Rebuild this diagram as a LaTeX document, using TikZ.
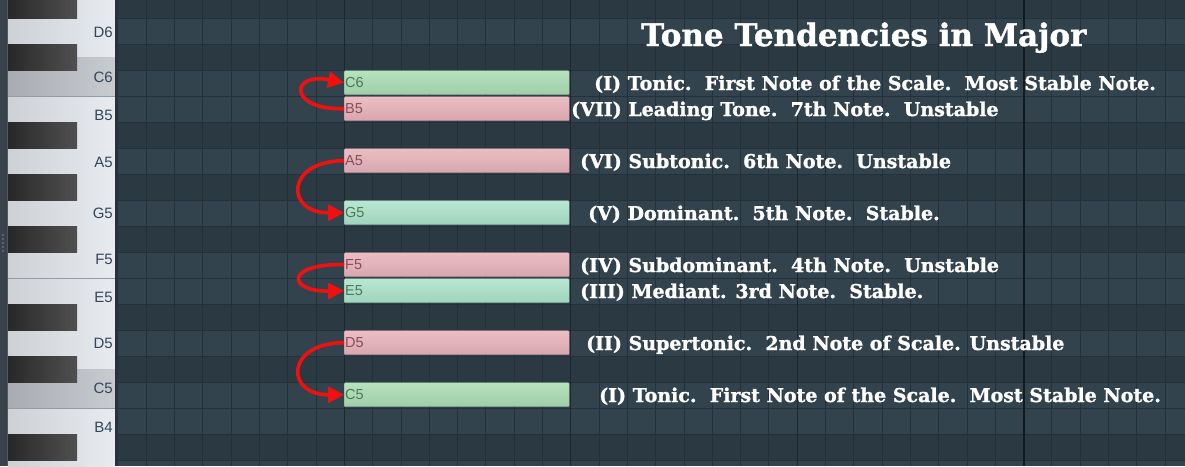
\documentclass[tikz,border=0pt]{standalone}
\usepackage{fontspec}
\usepackage{tikz}
\usetikzlibrary{positioning}
\usetikzlibrary{arrows.meta}
\newfontfamily\tendfont[BoldFeatures={FakeBold=1.3}]{DejaVu Serif}
\newfontfamily\keyfont{Liberation Sans}
\definecolor{gridlight}{HTML}{33434E}
\definecolor{griddark}{HTML}{2B3943}
\definecolor{gridline}{HTML}{25313A}
\definecolor{barline}{HTML}{121A20}
\definecolor{keylabel}{HTML}{34465A}
\definecolor{arrowred}{HTML}{F01010}
\definecolor{strip}{HTML}{3A434B}
\definecolor{stripedge}{HTML}{4E575F}
\definecolor{grip}{HTML}{58626C}
\definecolor{whiteL}{HTML}{CDD1D6}
\definecolor{whiteR}{HTML}{E8EBEF}
\definecolor{cL}{HTML}{A8ACB2}
\definecolor{cR}{HTML}{C8CBD0}
\definecolor{keyedge}{HTML}{969BA2}
\definecolor{blackL}{HTML}{282828}
\definecolor{blackR}{HTML}{505050}
\definecolor{keyborder}{HTML}{28323A}
\definecolor{greenT}{HTML}{B6E2BE}
\definecolor{greenB}{HTML}{9ECEA8}
\definecolor{greenD}{HTML}{7EAA88}
\definecolor{greenX}{HTML}{4C7A58}
\definecolor{mintT}{HTML}{B8E6D2}
\definecolor{mintB}{HTML}{A0D4BC}
\definecolor{mintD}{HTML}{7EAC96}
\definecolor{pinkT}{HTML}{EABEC4}
\definecolor{pinkB}{HTML}{D8A6AE}
\definecolor{pinkD}{HTML}{B4848C}
\definecolor{pinkX}{HTML}{8A4C5A}

\begin{document}
\begin{tikzpicture}[x=1pt,y=-1pt,
    bar/.style={rectangle,rounded corners=1pt,inner sep=0pt,minimum width=225pt,minimum height=24pt,anchor=north west},
    greenbar/.style={bar,top color=greenT,bottom color=greenB,draw=greenD},
    mintbar/.style={bar,top color=mintT,bottom color=mintB,draw=mintD},
    pinkbar/.style={bar,top color=pinkT,bottom color=pinkB,draw=pinkD},
    gname/.style={anchor=west,inner sep=1pt,font=\keyfont\fontsize{14.5}{14.5}\selectfont,text=greenX},
    pname/.style={anchor=west,inner sep=1pt,font=\keyfont\fontsize{14.5}{14.5}\selectfont,text=pinkX},
    tendency/.style={anchor=base west,inner sep=0pt,text=white,font=\tendfont\bfseries\fontsize{19}{19}\selectfont},
    keylab/.style={anchor=east,inner sep=0pt,text=keylabel,font=\keyfont\fontsize{15}{15}\selectfont},
    tendarrow/.style={arrowred,line width=3.6pt,-{Triangle[length=16pt,width=16pt]}}]
  \useasboundingbox (0,0) rectangle (1185,466);
  \fill[gridlight] (118,0) rectangle (1185,466);
  \foreach \n in {87,85,82,80,78,75,73,70}
    \fill[griddark] (118,{70+26*(84-\n)}) rectangle (1185,{96+26*(84-\n)});
  \foreach \k in {-1,...,17}
    \draw[gridline,line width=1pt] (118,{18+26*\k}) -- (1185,{18+26*\k});
  \foreach \i in {1,...,37}
    \draw[gridline,line width=1pt] ({118+28.3*\i},0) -- ({118+28.3*\i},466);
  \foreach \i in {8,16,24}
    \draw[gridline!80!black,line width=1pt] ({118+28.3*\i},0) -- ({118+28.3*\i},466);
  \draw[barline,line width=1.2pt] (1024,0) -- (1024,466);

  \fill[strip] (0,0) rectangle (8,466);
  \draw[stripedge] (7.5,0) -- (7.5,466);
  \foreach \y in {234,238,242,246,250}
    \fill[grip] (1.5,\y) rectangle (3.5,\y+2);
  \shade[left color=whiteL,right color=whiteR] (8,0) rectangle (115,466);
  \shade[left color=cL,right color=cR] (8,57) rectangle (115,96);
  \shade[left color=cL,right color=cR] (8,369) rectangle (115,408);
  \foreach \y in {96,278,408}
    \draw[keyedge,line width=1pt] (8,\y) -- (115,\y);
  \foreach \n in {87,85,82,80,78,75,73,70}
    \shade[left color=blackL,right color=blackR] (8,{70+26*(84-\n)}) rectangle (77,{96+26*(84-\n)});
  \fill[keyborder] (115,0) rectangle (118,466);
  \foreach \name/\y in {D6/32,C6/77,B5/115,A5/162,G5/213,F5/259,E5/297,D5/343,C5/388,B4/427}
    \node[keylab] (k\name) at (113,\y) {\name};

  \node[greenbar] (c6) at (344,70.5) {};
  \node[pinkbar] (b5) at (344,96.5) {};
  \node[pinkbar] (a5) at (344,148.5) {};
  \node[mintbar] (g5) at (344,200.5) {};
  \node[pinkbar] (f5) at (344,252.5) {};
  \node[mintbar] (e5) at (344,278.5) {};
  \node[pinkbar] (d5) at (344,330.5) {};
  \node[greenbar] (c5) at (344,382.5) {};
  \foreach \b/\t in {c6/C6,g5/G5,e5/E5,c5/C5}
    \node[gname] (n\b) at (\b.west) {\t};
  \foreach \b/\t in {b5/B5,a5/A5,f5/F5,d5/D5}
    \node[pname] (n\b) at (\b.west) {\t};

  \draw[tendarrow] (b5.west) .. controls (288,110) and (290,72) .. (c6.west);
  \draw[tendarrow] (a5.west) .. controls (285,161) and (285,213) .. (g5.west);
  \draw[tendarrow] (f5.west) .. controls (285,263) and (287,292) .. (e5.west);
  \draw[tendarrow] (d5.west) .. controls (285,343) and (285,395) .. (c5.west);

  \node[tendency,font=\tendfont\bfseries\fontsize{31}{31}\selectfont] (title) at (641,46) {Tone Tendencies in Major};
  \node[tendency] (tc6) at (594,90) {(I) Tonic.\ \ First Note of the Scale.\ \ Most Stable Note.};
  \node[tendency] (tb5) at (571,116) {(VII) Leading Tone.\ \ 7th Note.\ \ Unstable};
  \node[tendency] (ta5) at (580,168) {(VI) Subtonic.\ \ 6th Note.\ \ Unstable};
  \node[tendency] (tg5) at (588,220) {(V) Dominant.\ \ 5th Note.\ \ Stable.};
  \node[tendency] (tf5) at (580,272) {(IV) Subdominant.\ \ 4th Note.\ \ Unstable};
  \node[tendency] (te5) at (580,298) {(III) Mediant. 3rd Note.\ \ Stable.};
  \node[tendency] (td5) at (586,350) {(II) Supertonic.\ \ 2nd Note of Scale. Unstable};
  \node[tendency] (tc5) at (599,402) {(I) Tonic.\ \ First Note of the Scale.\ \ Most Stable Note.};
\end{tikzpicture}
\end{document}
